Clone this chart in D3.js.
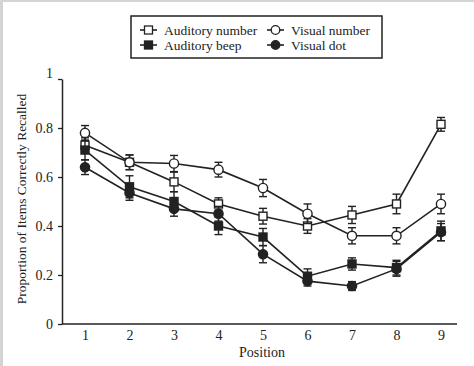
<!DOCTYPE html>
<html><head><meta charset="utf-8">
<script src="https://cdn.jsdelivr.net/npm/d3@7"></script>
<style>body{margin:0;background:#fff}svg{display:block}</style>
</head><body>
<script>
const positions = [1,2,3,4,5,6,7,8,9];
const yTicks = [0,0.2,0.4,0.6,0.8,1];
const audNum   = [0.73,0.66,0.58,0.49,0.44,0.40,0.445,0.49,0.815];
const audNumE  = [0.03,0.03,0.04,0.025,0.032,0.03,0.035,0.04,0.028];
const visNum   = [0.78,0.66,0.655,0.63,0.555,0.45,0.36,0.36,0.49];
const visNumE  = [0.03,0.03,0.033,0.03,0.035,0.04,0.033,0.033,0.04];
const audBeep  = [0.71,0.56,0.50,0.40,0.355,0.195,0.245,0.23,0.38];
const audBeepE = [0.04,0.045,0.04,0.035,0.035,0.03,0.025,0.03,0.04];
const visDot   = [0.64,0.535,0.47,0.45,0.285,0.175,0.155,0.225,0.375];
const visDotE  = [0.03,0.03,0.03,0.03,0.035,0.02,0.018,0.03,0.035];

const series = [
  {name:"Auditory number", v:audNum, e:audNumE, shape:"square", fill:"#fff"},
  {name:"Visual number", v:visNum, e:visNumE, shape:"circle", fill:"#fff"},
  {name:"Auditory beep", v:audBeep, e:audBeepE, shape:"square", fill:"#222"},
  {name:"Visual dot", v:visDot, e:visDotE, shape:"circle", fill:"#222"}
];

const W=474,H=366;
const svg=d3.select("body").append("svg").attr("width",W).attr("height",H);
svg.append("rect").attr("width",W).attr("height",H).attr("fill","#fff");
svg.append("rect").attr("x",0).attr("y",0).attr("width",W).attr("height",2).attr("fill","#d4d4d4");
svg.append("rect").attr("x",0).attr("y",0).attr("width",3).attr("height",H).attr("fill","#d4d4d4");

const x=d3.scaleLinear().domain([1,9]).range([85,441]);
const y=d3.scaleLinear().domain([0,1]).range([324,79]);
const font="Liberation Serif, Times New Roman, serif";
const ink="#222";

// y axis
const ya=svg.append("g").attr("transform","translate(62,0)")
  .call(d3.axisLeft(y).tickValues(yTicks).tickFormat(d=>d===0||d===1?String(d):d3.format(".1f")(d)).tickSize(4).tickSizeOuter(0));
ya.select(".domain").attr("stroke",ink).attr("stroke-width",1.5);
ya.selectAll(".tick line").attr("stroke",ink).attr("stroke-width",1.3);
ya.selectAll(".tick text").attr("font-family",font).attr("font-size",14).attr("fill",ink).attr("dx",-2);
ya.select(".tick:last-of-type text").attr("dy","-0.1em");

// x axis
const xa=svg.append("g").attr("transform","translate(0,324)")
  .call(d3.axisBottom(x).tickValues(positions).tickFormat(d3.format("d")).tickSize(0).tickPadding(6));
xa.select(".domain").remove();
svg.append("line").attr("x1",62).attr("x2",457).attr("y1",324).attr("y2",324).attr("stroke",ink).attr("stroke-width",1.5);
xa.selectAll(".tick text").attr("font-family",font).attr("font-size",14).attr("fill",ink);

svg.append("text").attr("x",262).attr("y",357).attr("text-anchor","middle")
  .attr("font-family",font).attr("font-size",14).attr("fill",ink).text("Position");
svg.append("text").attr("transform","translate(26,199) rotate(-90)").attr("text-anchor","middle")
  .attr("font-family",font).attr("font-size",13.5).attr("fill",ink).text("Proportion of Items Correctly Recalled");

const line=d3.line().x((d,i)=>x(positions[i])).y(d=>y(d));
series.forEach(s=>{
  svg.append("path").attr("d",line(s.v)).attr("fill","none").attr("stroke",ink).attr("stroke-width",1.6);
});
function marker(g,shape,fill,cx,cy){
  if(shape==="square") g.append("rect").attr("x",cx-4).attr("y",cy-4).attr("width",8).attr("height",8)
     .attr("fill",fill).attr("stroke",ink).attr("stroke-width",1.4);
  else g.append("circle").attr("cx",cx).attr("cy",cy).attr("r",4.6).attr("fill",fill).attr("stroke",ink).attr("stroke-width",1.4);
}
series.forEach(s=>{
  const g=svg.append("g");
  s.v.forEach((v,i)=>{
    const cx=x(positions[i]);
    const y1=y(v+s.e[i]), y2=y(v-s.e[i]);
    g.append("line").attr("x1",cx).attr("x2",cx).attr("y1",y1).attr("y2",y2).attr("stroke",ink).attr("stroke-width",1.4);
    [y1,y2].forEach(yy=>g.append("line").attr("x1",cx-4).attr("x2",cx+4).attr("y1",yy).attr("y2",yy).attr("stroke",ink).attr("stroke-width",1.4));
    marker(g,s.shape,s.fill,cx,y(v));
  });
});

// legend
const lg=svg.append("g");
lg.append("rect").attr("x",131).attr("y",16).attr("width",251).attr("height",42).attr("fill","#fff").attr("stroke",ink).attr("stroke-width",1.5);
const lpos=[[140,30],[267,30],[140,45],[267,45]];
series.forEach((s,i)=>{
  const [lx,ly]=lpos[i];
  lg.append("line").attr("x1",lx).attr("x2",lx+17).attr("y1",ly).attr("y2",ly).attr("stroke",ink).attr("stroke-width",1.6);
  if(s.shape==="square") lg.append("rect").attr("x",lx+8.5-4).attr("y",ly-4).attr("width",8).attr("height",8).attr("fill",s.fill).attr("stroke",ink).attr("stroke-width",1.3);
  else lg.append("circle").attr("cx",lx+8.5).attr("cy",ly).attr("r",4.3).attr("fill",s.fill).attr("stroke",ink).attr("stroke-width",1.3);
  lg.append("text").attr("x",lx+24).attr("y",ly+4.5).attr("font-family",font).attr("font-size",13.5).attr("fill",ink).text(s.name);
});
</script>
</body></html>
